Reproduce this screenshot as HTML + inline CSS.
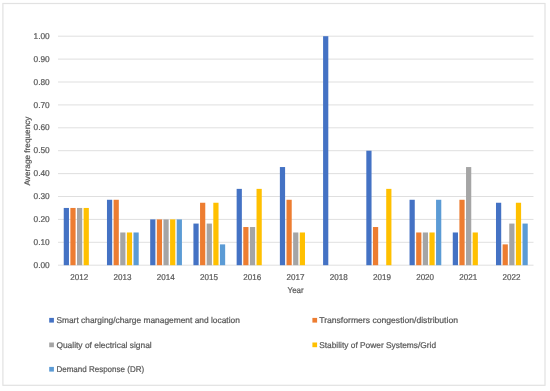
<!DOCTYPE html>
<html><head><meta charset="utf-8"><title>Chart</title>
<style>html,body{margin:0;padding:0;background:#fff;overflow:hidden}svg{display:block}</style></head>
<body>
<svg width="550" height="391" viewBox="0 0 550 391" font-family="'Liberation Sans', sans-serif" font-size="8.4" fill="#595959" text-rendering="geometricPrecision">
<rect x="0" y="0" width="550" height="391" fill="#fff"/>
<rect x="2.9" y="3.5" width="542.1" height="381.8" fill="#fff" stroke="#E2E2E2" stroke-width="1.2"/>
<line x1="58.0" x2="533.48" y1="265.20" y2="265.20" stroke="#D9D9D9" stroke-width="0.85"/>
<text transform="translate(49.70 267.80) scale(0.9909 1)" text-anchor="end" stroke="#595959" stroke-width="0.22">0.00</text>
<line x1="58.0" x2="533.48" y1="242.30" y2="242.30" stroke="#D9D9D9" stroke-width="0.85"/>
<text transform="translate(49.70 244.90) scale(0.9909 1)" text-anchor="end" stroke="#595959" stroke-width="0.22">0.10</text>
<line x1="58.0" x2="533.48" y1="219.40" y2="219.40" stroke="#D9D9D9" stroke-width="0.85"/>
<text transform="translate(49.70 222.00) scale(0.9909 1)" text-anchor="end" stroke="#595959" stroke-width="0.22">0.20</text>
<line x1="58.0" x2="533.48" y1="196.50" y2="196.50" stroke="#D9D9D9" stroke-width="0.85"/>
<text transform="translate(49.70 199.10) scale(0.9909 1)" text-anchor="end" stroke="#595959" stroke-width="0.22">0.30</text>
<line x1="58.0" x2="533.48" y1="173.60" y2="173.60" stroke="#D9D9D9" stroke-width="0.85"/>
<text transform="translate(49.70 176.20) scale(0.9909 1)" text-anchor="end" stroke="#595959" stroke-width="0.22">0.40</text>
<line x1="58.0" x2="533.48" y1="150.70" y2="150.70" stroke="#D9D9D9" stroke-width="0.85"/>
<text transform="translate(49.70 153.30) scale(0.9909 1)" text-anchor="end" stroke="#595959" stroke-width="0.22">0.50</text>
<line x1="58.0" x2="533.48" y1="127.80" y2="127.80" stroke="#D9D9D9" stroke-width="0.85"/>
<text transform="translate(49.70 130.40) scale(0.9909 1)" text-anchor="end" stroke="#595959" stroke-width="0.22">0.60</text>
<line x1="58.0" x2="533.48" y1="104.90" y2="104.90" stroke="#D9D9D9" stroke-width="0.85"/>
<text transform="translate(49.70 107.50) scale(0.9909 1)" text-anchor="end" stroke="#595959" stroke-width="0.22">0.70</text>
<line x1="58.0" x2="533.48" y1="82.00" y2="82.00" stroke="#D9D9D9" stroke-width="0.85"/>
<text transform="translate(49.70 84.60) scale(0.9909 1)" text-anchor="end" stroke="#595959" stroke-width="0.22">0.80</text>
<line x1="58.0" x2="533.48" y1="59.10" y2="59.10" stroke="#D9D9D9" stroke-width="0.85"/>
<text transform="translate(49.70 61.70) scale(0.9909 1)" text-anchor="end" stroke="#595959" stroke-width="0.22">0.90</text>
<line x1="58.0" x2="533.48" y1="36.20" y2="36.20" stroke="#D9D9D9" stroke-width="0.85"/>
<text transform="translate(49.70 38.80) scale(0.9909 1)" text-anchor="end" stroke="#595959" stroke-width="0.22">1.00</text>
<rect x="63.74" y="207.95" width="5.22" height="57.25" fill="#4472C4"/>
<rect x="70.37" y="207.95" width="5.22" height="57.25" fill="#ED7D31"/>
<rect x="77.00" y="207.95" width="5.22" height="57.25" fill="#A5A5A5"/>
<rect x="83.63" y="207.95" width="5.22" height="57.25" fill="#FFC000"/>
<text transform="translate(79.31 279.90) scale(0.9632 1)" text-anchor="middle" stroke="#595959" stroke-width="0.22">2012</text>
<rect x="106.97" y="199.77" width="5.22" height="65.43" fill="#4472C4"/>
<rect x="113.60" y="199.77" width="5.22" height="65.43" fill="#ED7D31"/>
<rect x="120.23" y="232.48" width="5.22" height="32.72" fill="#A5A5A5"/>
<rect x="126.86" y="232.48" width="5.22" height="32.72" fill="#FFC000"/>
<rect x="133.49" y="232.48" width="5.22" height="32.72" fill="#5B9BD5"/>
<text transform="translate(122.54 279.90) scale(0.9632 1)" text-anchor="middle" stroke="#595959" stroke-width="0.22">2013</text>
<rect x="150.19" y="219.40" width="5.22" height="45.80" fill="#4472C4"/>
<rect x="156.82" y="219.40" width="5.22" height="45.80" fill="#ED7D31"/>
<rect x="163.45" y="219.40" width="5.22" height="45.80" fill="#A5A5A5"/>
<rect x="170.08" y="219.40" width="5.22" height="45.80" fill="#FFC000"/>
<rect x="176.71" y="219.40" width="5.22" height="45.80" fill="#5B9BD5"/>
<text transform="translate(165.76 279.90) scale(0.9632 1)" text-anchor="middle" stroke="#595959" stroke-width="0.22">2014</text>
<rect x="193.42" y="223.57" width="5.22" height="41.63" fill="#4472C4"/>
<rect x="200.05" y="202.75" width="5.22" height="62.45" fill="#ED7D31"/>
<rect x="206.68" y="223.57" width="5.22" height="41.63" fill="#A5A5A5"/>
<rect x="213.31" y="202.75" width="5.22" height="62.45" fill="#FFC000"/>
<rect x="219.94" y="244.38" width="5.22" height="20.82" fill="#5B9BD5"/>
<text transform="translate(208.99 279.90) scale(0.9632 1)" text-anchor="middle" stroke="#595959" stroke-width="0.22">2015</text>
<rect x="236.64" y="188.87" width="5.22" height="76.33" fill="#4472C4"/>
<rect x="243.27" y="227.03" width="5.22" height="38.17" fill="#ED7D31"/>
<rect x="249.90" y="227.03" width="5.22" height="38.17" fill="#A5A5A5"/>
<rect x="256.53" y="188.87" width="5.22" height="76.33" fill="#FFC000"/>
<text transform="translate(252.21 279.90) scale(0.9632 1)" text-anchor="middle" stroke="#595959" stroke-width="0.22">2016</text>
<rect x="279.87" y="167.05" width="5.22" height="98.15" fill="#4472C4"/>
<rect x="286.50" y="199.77" width="5.22" height="65.43" fill="#ED7D31"/>
<rect x="293.13" y="232.48" width="5.22" height="32.72" fill="#A5A5A5"/>
<rect x="299.76" y="232.48" width="5.22" height="32.72" fill="#FFC000"/>
<text transform="translate(295.44 279.90) scale(0.9632 1)" text-anchor="middle" stroke="#595959" stroke-width="0.22">2017</text>
<rect x="323.09" y="36.20" width="5.22" height="229.00" fill="#4472C4"/>
<text transform="translate(338.66 279.90) scale(0.9632 1)" text-anchor="middle" stroke="#595959" stroke-width="0.22">2018</text>
<rect x="366.32" y="150.70" width="5.22" height="114.50" fill="#4472C4"/>
<rect x="372.95" y="227.03" width="5.22" height="38.17" fill="#ED7D31"/>
<rect x="386.21" y="188.87" width="5.22" height="76.33" fill="#FFC000"/>
<text transform="translate(381.89 279.90) scale(0.9632 1)" text-anchor="middle" stroke="#595959" stroke-width="0.22">2019</text>
<rect x="409.54" y="199.77" width="5.22" height="65.43" fill="#4472C4"/>
<rect x="416.17" y="232.48" width="5.22" height="32.72" fill="#ED7D31"/>
<rect x="422.80" y="232.48" width="5.22" height="32.72" fill="#A5A5A5"/>
<rect x="429.43" y="232.48" width="5.22" height="32.72" fill="#FFC000"/>
<rect x="436.06" y="199.77" width="5.22" height="65.43" fill="#5B9BD5"/>
<text transform="translate(425.11 279.90) scale(0.9632 1)" text-anchor="middle" stroke="#595959" stroke-width="0.22">2020</text>
<rect x="452.77" y="232.48" width="5.22" height="32.72" fill="#4472C4"/>
<rect x="459.40" y="199.77" width="5.22" height="65.43" fill="#ED7D31"/>
<rect x="466.03" y="167.05" width="5.22" height="98.15" fill="#A5A5A5"/>
<rect x="472.66" y="232.48" width="5.22" height="32.72" fill="#FFC000"/>
<text transform="translate(468.34 279.90) scale(0.9632 1)" text-anchor="middle" stroke="#595959" stroke-width="0.22">2021</text>
<rect x="495.99" y="202.75" width="5.22" height="62.45" fill="#4472C4"/>
<rect x="502.62" y="244.38" width="5.22" height="20.82" fill="#ED7D31"/>
<rect x="509.25" y="223.57" width="5.22" height="41.63" fill="#A5A5A5"/>
<rect x="515.88" y="202.75" width="5.22" height="62.45" fill="#FFC000"/>
<rect x="522.51" y="223.57" width="5.22" height="41.63" fill="#5B9BD5"/>
<text transform="translate(511.56 279.90) scale(0.9632 1)" text-anchor="middle" stroke="#595959" stroke-width="0.22">2022</text>
<text transform="translate(295.60 292.70) scale(0.9545 1)" text-anchor="middle" stroke="#595959" stroke-width="0.22">Year</text>
<text transform="translate(29.70 151.00) rotate(-90) scale(1.0170 1)" text-anchor="middle" font-size="8.1" stroke="#595959" stroke-width="0.22">Average frequency</text>
<rect x="49.2" y="317.9" width="4.7" height="4.7" fill="#4472C4"/>
<text transform="translate(56.40 323.10) scale(1.0001 1)" text-anchor="start" stroke="#595959" stroke-width="0.22">Smart charging/charge management and location</text>
<rect x="312.4" y="317.9" width="4.7" height="4.7" fill="#ED7D31"/>
<text transform="translate(319.20 323.10) scale(1.0269 1)" text-anchor="start" stroke="#595959" stroke-width="0.22">Transformers congestion/distribution</text>
<rect x="49.2" y="342.5" width="4.7" height="4.7" fill="#A5A5A5"/>
<text transform="translate(56.40 347.70) scale(1.0038 1)" text-anchor="start" stroke="#595959" stroke-width="0.22">Quality of electrical signal</text>
<rect x="312.4" y="342.5" width="4.7" height="4.7" fill="#FFC000"/>
<text transform="translate(319.20 347.70) scale(0.9963 1)" text-anchor="start" stroke="#595959" stroke-width="0.22">Stability of Power Systems/Grid</text>
<rect x="49.2" y="366.9" width="4.7" height="4.7" fill="#5B9BD5"/>
<text transform="translate(56.40 372.10) scale(0.9568 1)" text-anchor="start" stroke="#595959" stroke-width="0.22">Demand Response (DR)</text>
</svg>
</body></html>
